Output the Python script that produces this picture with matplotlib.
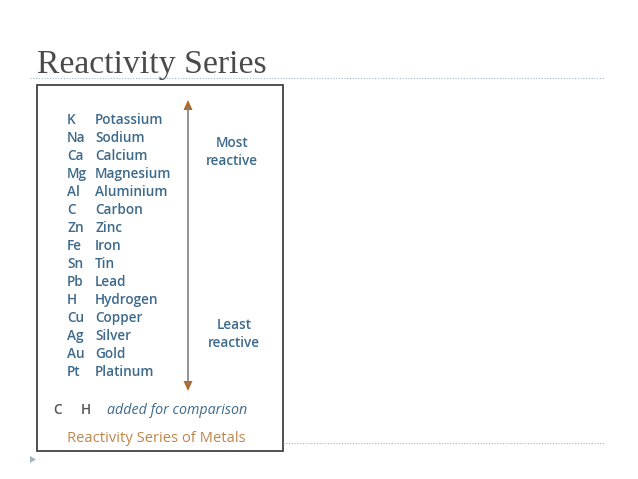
import matplotlib.pyplot as plt
from matplotlib.patches import Rectangle, Polygon

symbols = ["K", "Na", "Ca", "Mg", "Al", "C", "Zn", "Fe", "Sn", "Pb", "H",
           "Cu", "Ag", "Au", "Pt"]
names = ["Potassium", "Sodium", "Calcium", "Magnesium", "Aluminium", "Carbon",
         "Zinc", "Iron", "Tin", "Lead", "Hydrogen", "Copper", "Silver", "Gold",
         "Platinum"]
title = "Reactivity Series"
top_label = "Most\nreactive"
bottom_label = "Least\nreactive"
compared = ["C", "H"]
note = "added for comparison"
caption = "Reactivity Series of Metals"

blue = "#3d6a8c"
brown = "#b06a28"
dots = "#9fb6c9"
sans = ["Open Sans", "DejaVu Sans"]

fig = plt.figure(figsize=(6.38, 4.79), dpi=100)
ax = fig.add_axes([0, 0, 1, 1])
ax.set_xlim(0, 638)
ax.set_ylim(479, 0)
ax.axis("off")

# slide title and dotted rules
ax.text(37, 73, title, fontsize=24.3, family="Liberation Serif", color="#4a4a4a")
ax.plot([30, 605], [78, 78], ls=(0, (1, 1.5)), lw=0.8, color=dots)
ax.plot([283, 605], [443, 443], ls=(0, (1, 1.5)), lw=0.8, color=dots)
ax.add_patch(Polygon([[30, 456], [30, 463], [36, 459.5]], color=dots, lw=0))

# picture frame
ax.add_patch(Rectangle((37, 85), 246, 366, fill=False, ec="#333333", lw=1.2))

y0, step = 120, 18.0
for i, (s, n) in enumerate(zip(symbols, names)):
    y = y0 + i * step
    ax.text(67, y, s, fontsize=9.8, color=blue, va="center", weight="semibold",
            family=sans)
    ax.text(95, y, n, fontsize=9.8, color=blue, va="center", weight="semibold",
            family=sans)

# arrow
ax.plot([188, 188], [107, 384], color="#808080", lw=1.2)
ax.add_patch(Polygon([[183.5, 110], [192.5, 110], [188, 100]], color=brown, lw=0))
ax.add_patch(Polygon([[183.5, 381], [192.5, 381], [188, 391]], color=brown, lw=0))

ax.text(232, 152, top_label, fontsize=9.8, color=blue, ha="center", va="center",
        linespacing=1.35, weight="semibold", family=sans)
ax.text(234, 334, bottom_label, fontsize=9.8, color=blue, ha="center", va="center",
        linespacing=1.35, weight="semibold", family=sans)

ax.text(53, 410, compared[0], fontsize=9.8, color="#555555", va="center",
        weight="semibold", family=sans)
ax.text(81, 410, compared[1], fontsize=9.8, color="#555555", va="center",
        weight="semibold", family=sans)
ax.text(107, 410, note, fontsize=10.3, color=blue, va="center", style="italic",
        family=sans)

ax.text(67, 439, caption, fontsize=10.6, color="#c08548", va="center", family=sans)

fig.savefig("out.png", dpi=100)
